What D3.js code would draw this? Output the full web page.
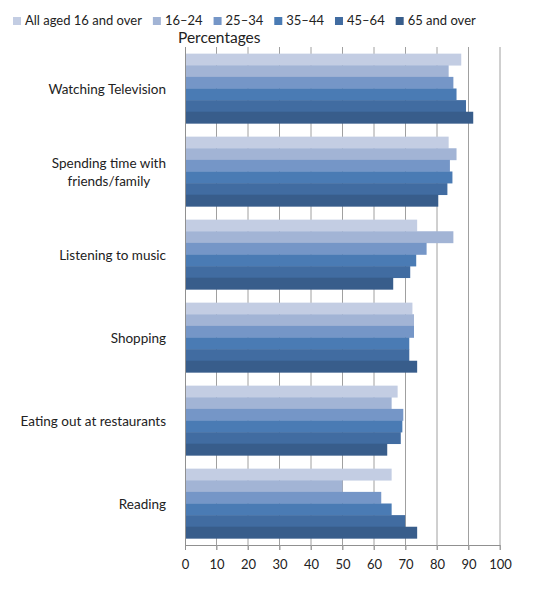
<!DOCTYPE html>
<html>
<head>
<meta charset="utf-8">
<script src="https://cdn.jsdelivr.net/npm/d3@7"></script>
<style>
  body { margin: 0; background: #fff; }
  text { font-family: Lato, "Open Sans", sans-serif; fill: #222; }
</style>
</head>
<body>
<svg id="chart" width="548" height="594"></svg>
<script>
const activities = [
  "Watching Television",
  "Spending time with\nfriends/family",
  "Listening to music",
  "Shopping",
  "Eating out at restaurants",
  "Reading"
];
const ageGroups = ["All aged 16 and over", "16\u201324", "25\u201334", "35\u201344", "45\u201364", "65 and over"];
const allAged = [87.7, 83.7, 73.7, 72.2, 67.5, 65.6];
const aged16to24 = [83.7, 86.2, 85.2, 72.7, 65.6, 50.0];
const aged25to34 = [85.2, 84.1, 76.7, 72.7, 69.3, 62.3];
const aged35to44 = [86.2, 84.9, 73.4, 71.2, 69.0, 65.6];
const aged45to64 = [89.2, 83.3, 71.5, 71.2, 68.5, 69.9];
const aged65plus = [91.5, 80.4, 66.1, 73.7, 64.2, 73.7];
const xTicks = [0, 10, 20, 30, 40, 50, 60, 70, 80, 90, 100];

const series = [allAged, aged16to24, aged25to34, aged35to44, aged45to64, aged65plus];
const colors = ["#c3cde3", "#a2b4d5", "#7596c7", "#4a7bb4", "#416ca1", "#385d8b"];

const svg = d3.select("#chart");
const margin = { top: 47, right: 48, bottom: 49, left: 185 };
const innerWidth = 548 - margin.left - margin.right;
const innerHeight = 594 - margin.top - margin.bottom;

const g = svg.append("g").attr("transform", `translate(${margin.left},${margin.top})`);

const x = d3.scaleLinear().domain([0, 100]).range([0, innerWidth]);
const y = d3.scaleBand().domain(activities).range([0, innerHeight]).paddingInner(0.16).paddingOuter(0.08);
const ySub = d3.scaleBand().domain(d3.range(series.length)).range([0, y.bandwidth()]);

// vertical gridlines
g.append("g")
  .selectAll("line")
  .data(xTicks.slice(1))
  .join("line")
  .attr("x1", (d) => x(d))
  .attr("x2", (d) => x(d))
  .attr("y1", 0)
  .attr("y2", innerHeight + 5)
  .attr("stroke", "#a0a0a0")
  .attr("stroke-width", 1);

// bars
series.forEach((vals, i) => {
  g.append("g")
    .selectAll("rect")
    .data(activities)
    .join("rect")
    .attr("x", 0)
    .attr("y", (d) => y(d) + ySub(i))
    .attr("width", (d, j) => x(vals[j]))
    .attr("height", ySub.bandwidth() + 0.3)
    .attr("fill", colors[i]);
});

// bottom axis
const xAxis = g.append("g")
  .attr("transform", `translate(0,${innerHeight})`)
  .call(d3.axisBottom(x).tickValues(xTicks).tickSize(5).tickPadding(10).tickFormat(d3.format("d")));
xAxis.select(".domain").attr("stroke", "#909090").attr("d", `M0.5,0.5H${innerWidth}`);
xAxis.selectAll(".tick line").attr("stroke", "#a0a0a0");
xAxis.selectAll(".tick text").attr("font-size", 13).attr("fill", "#222").style("font-family", "Lato, sans-serif");

// left axis line
g.append("line")
  .attr("x1", 0.5).attr("x2", 0.5)
  .attr("y1", 0).attr("y2", innerHeight + 5)
  .attr("stroke", "#909090");

// category labels
const labelRight = -19;
const lineGap = 18;
activities.forEach((a) => {
  const lines = a.split("\n");
  const t = g.append("text")
    .attr("font-size", 13.5)
    .attr("text-anchor", "middle");
  lines.forEach((ln, k) => {
    t.append("tspan")
      .attr("x", 0)
      .attr("dy", k === 0 ? 0 : lineGap)
      .text(ln);
  });
  const w = d3.max(t.selectAll("tspan").nodes(), (n) => n.getComputedTextLength());
  const cy = y(a) + y.bandwidth() / 2;
  const top = cy - (lines.length - 1) * lineGap / 2 + 5;
  t.attr("transform", `translate(${labelRight - w / 2},${top})`);
});

// title
svg.append("text")
  .attr("x", 178)
  .attr("y", 43)
  .attr("font-size", 15.5)
  .text("Percentages");

// legend
let lx = 13;
ageGroups.forEach((name, i) => {
  svg.append("rect")
    .attr("x", lx).attr("y", 17)
    .attr("width", 8).attr("height", 8)
    .attr("fill", colors[i]);
  const t = svg.append("text")
    .attr("x", lx + 12)
    .attr("y", 25)
    .attr("font-size", 13)
    .text(name);
  lx += 12 + t.node().getComputedTextLength() + 11;
});
</script>
</body>
</html>
